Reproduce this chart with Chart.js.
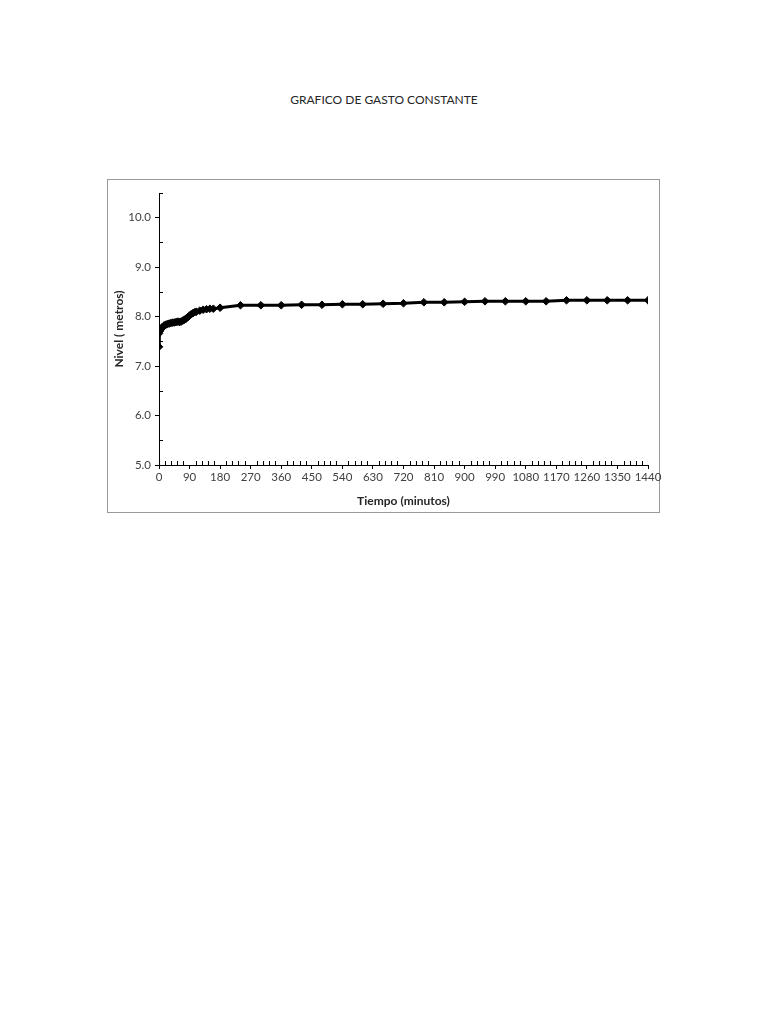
<!DOCTYPE html>
<html>
<head>
<meta charset="utf-8">
<script src="https://cdn.jsdelivr.net/npm/chart.js@4/dist/chart.umd.min.js"></script>
<style>
  html, body { margin: 0; padding: 0; background: #fff; width: 768px; height: 1024px; }
  #title { position: absolute; left: 0; width: 768px; top: 92px; text-align: center;
           font-family: Lato, "Liberation Sans", sans-serif; font-size: 12px; color: #262626; }
  #box { position: absolute; left: 107px; top: 179px; width: 553px; height: 334px;
         border: 1px solid #9a9a9a; box-sizing: border-box; }
  #c { position: absolute; left: 108px; top: 180px; display: block; }
</style>
</head>
<body>
<div id="title">GRAFICO DE GASTO CONSTANTE</div>
<div id="box"></div>
<canvas id="c" width="562" height="332"></canvas>
<script>
const tiempo = [0, 0, 2, 4, 6, 8, 10, 12, 15, 18, 21, 25, 30, 35, 40, 45, 50, 55, 60, 65, 70, 75, 80, 85, 90, 95, 100, 105, 110, 120, 130, 140, 150, 160, 180, 240, 300, 360, 420, 480, 540, 600, 660, 720, 780, 840, 900, 960, 1020, 1080, 1140, 1200, 1260, 1320, 1380, 1440];
const nivel  = [7.39, 7.66, 7.70, 7.73, 7.75, 7.77, 7.79, 7.80, 7.82, 7.83, 7.84, 7.85, 7.86, 7.87, 7.88, 7.88, 7.89, 7.90, 7.89, 7.90, 7.92, 7.94, 7.96, 7.99, 8.02, 8.05, 8.07, 8.09, 8.10, 8.12, 8.14, 8.15, 8.16, 8.16, 8.18, 8.23, 8.23, 8.23, 8.24, 8.24, 8.25, 8.25, 8.26, 8.27, 8.29, 8.29, 8.30, 8.31, 8.31, 8.31, 8.31, 8.33, 8.33, 8.33, 8.33, 8.33];
const xMajorStep = 90, xMinorStep = 18, xMin = 0, xMax = 1440;
const yMin = 5, yMax = 10.5, yMajorStep = 1, yMinorStep = 0.5;
const titleX = 'Tiempo (minutos)';
const titleY = 'Nivel ( metros)';

const FONT = 'Lato, "Liberation Sans", sans-serif';
const isMult = (v, s) => Math.abs(v / s - Math.round(v / s)) < 1e-6;

const minorTicks = {
  id: 'minorTicks',
  afterDraw(chart) {
    const ctx = chart.ctx, xs = chart.scales.x, ys = chart.scales.y;
    ctx.save();
    ctx.strokeStyle = '#000';
    ctx.lineWidth = 1;
    ctx.beginPath();
    xs.ticks.forEach(t => {
      if (!isMult(t.value, xMajorStep)) {
        const px = Math.round(xs.getPixelForValue(t.value)) + 0.5;
        ctx.moveTo(px, ys.bottom);
        ctx.lineTo(px, ys.bottom - 4);
      }
    });
    ys.ticks.forEach(t => {
      if (!isMult(t.value, yMajorStep)) {
        const py = Math.round(ys.getPixelForValue(t.value)) + 0.5;
        ctx.moveTo(xs.left, py);
        ctx.lineTo(xs.left + 4, py);
      }
    });
    ctx.stroke();
    ctx.restore();
  }
};

new Chart(document.getElementById('c'), {
  type: 'line',
  data: {
    datasets: [{
      data: tiempo.map((t, i) => ({ x: t, y: nivel[i] })),
      borderColor: '#000',
      backgroundColor: '#000',
      borderWidth: 3,
      pointStyle: 'rectRot',
      pointRadius: 3.8,
      pointBorderWidth: 1,
      tension: 0
    }]
  },
  options: {
    responsive: false,
    animation: false,
    layout: { padding: { top: 13, right: 22, left: 0, bottom: 0 } },
    plugins: { legend: { display: false }, tooltip: { enabled: false } },
    scales: {
      x: {
        type: 'linear', min: xMin, max: xMax,
        afterFit(s) { s.height = 47; s.paddingRight = 0; s.paddingLeft = 0; },
        border: { display: true, color: '#000', width: 1 },
        grid: { drawOnChartArea: false, drawTicks: true, tickLength: 4,
                color: c => isMult(c.tick.value, xMajorStep) ? '#000' : 'rgba(0,0,0,0)' },
        ticks: { stepSize: xMinorStep, autoSkip: false, maxRotation: 0, padding: 1,
                 color: '#404040', font: { family: FONT, size: 11.5 },
                 callback: v => isMult(v, xMajorStep) ? String(v) : '' },
        title: { display: true, text: titleX, color: '#262626',
                 font: { family: FONT, size: 12, weight: 'bold' }, padding: { top: 3 } }
      },
      y: {
        type: 'linear', min: yMin, max: yMax,
        afterFit(s) { s.width = 51; s.paddingTop = 0; s.paddingBottom = 0; },
        border: { display: true, color: '#000', width: 1 },
        grid: { drawOnChartArea: false, drawTicks: true, tickLength: 4,
                color: c => isMult(c.tick.value, yMajorStep) ? '#000' : 'rgba(0,0,0,0)' },
        ticks: { stepSize: yMinorStep, autoSkip: false, padding: 4,
                 color: '#404040', font: { family: FONT, size: 11.5 },
                 callback: v => isMult(v, yMajorStep) ? v.toFixed(1) : '' },
        title: { display: true, text: titleY, color: '#262626',
                 font: { family: FONT, size: 12, weight: 'bold' }, padding: { bottom: 1 } }
      }
    }
  },
  plugins: [minorTicks]
});
</script>
</body>
</html>
